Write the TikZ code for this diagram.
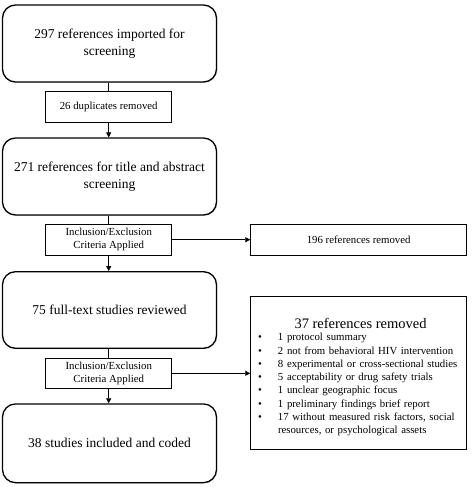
\documentclass[tikz,border=0pt]{standalone}
\usepackage{fontspec}
\setmainfont{Liberation Serif}
\usetikzlibrary{arrows.meta,shadows}
\begin{document}
\begin{tikzpicture}[x=1pt,y=-1pt,
  bigbox/.style={draw=black, line width=1.3pt, rounded corners=13pt, fill=white,
    minimum width=214pt, align=center, inner sep=0pt,
    font=\fontsize{13.5}{16.5}\selectfont,
    drop shadow={shadow xshift=0.8pt, shadow yshift=-0.8pt, opacity=0.35, fill=gray}},
  smallbox/.style={draw=black, line width=0.9pt, fill=white, minimum width=126pt,
    minimum height=30.6pt, align=center, inner sep=0pt,
    font=\fontsize{10.8}{12.7}\selectfont},
  conn/.style={draw=black, line width=0.7pt},
  arr/.style={conn, -{Triangle[length=5pt,width=5pt]}}]
\useasboundingbox (0,0) rectangle (474,487);
\fill[white] (0,0) rectangle (474,487);

\node[bigbox, minimum height=77pt] (b1) at (109.5,43.5) {297 references imported for\\screening};
\node[smallbox] (d1) at (108.7,107) {26 duplicates removed};
\node[bigbox, minimum height=77pt] (b2) at (109.5,176.5) {271 references for title and abstract\\screening};
\node[smallbox] (i1) at (108.7,239.7) {Inclusion/Exclusion\\Criteria Applied};
\node[smallbox, minimum width=216pt] (r1) at (358.7,239.7) {196 references removed};
\node[bigbox, minimum height=76.6pt] (b3) at (109.5,310) {75 full-text studies reviewed};
\node[smallbox] (i2) at (108.7,373.3) {Inclusion/Exclusion\\Criteria Applied};
\node[smallbox, minimum width=216pt, minimum height=152.6pt] (r2) at (358.7,373) {};
\node[anchor=center, text width=205pt, inner sep=0pt, align=left,
  font=\fontsize{10.8}{13.3}\selectfont] (r2t) at (360.5,378)
{\centering{\fontsize{14.5}{14.5}\selectfont 37 references removed}\par\vspace{2pt}
 \raggedright
 \begin{tabular}{@{}p{20pt}@{}p{185pt}@{}}
 \textbullet & 1 protocol summary\\
 \textbullet & 2 not from behavioral HIV intervention\\
 \textbullet & 8 experimental or cross-sectional studies\\
 \textbullet & 5 acceptability or drug safety trials\\
 \textbullet & 1 unclear geographic focus\\
 \textbullet & 1 preliminary findings brief report\\
 \textbullet & 17 without measured risk factors, social resources, or psychological assets
 \end{tabular}};
\node[bigbox, minimum height=78.7pt] (b4) at (109.5,443.3) {38 studies included and coded};

\draw[conn] (b1.south -| d1.north) -- (d1.north);
\draw[arr] (d1.south) -- (d1.south |- b2.north);
\draw[conn] (b2.south -| i1.north) -- (i1.north);
\draw[arr] (i1.south) -- (i1.south |- b3.north);
\draw[arr] (i1.east) -- (r1.west);
\draw[conn] (b3.south -| i2.north) -- (i2.north);
\draw[arr] (i2.south) -- (i2.south |- b4.north);
\draw[arr] (i2.east) -- (i2.east -| r2.west);
\end{tikzpicture}
\end{document}
